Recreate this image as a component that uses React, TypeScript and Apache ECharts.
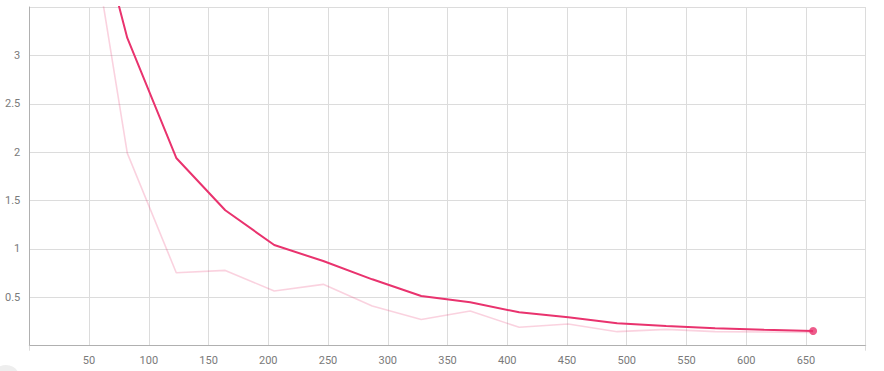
import React, { useEffect, useRef } from "react";
import * as echarts from "echarts";

const steps = [41, 82, 123, 164, 205, 246, 287, 328, 369, 410, 451, 492, 533, 574, 615, 656];
const smoothedLoss = [5.12, 3.18, 1.94, 1.4, 1.04, 0.875, 0.686, 0.513, 0.448, 0.345, 0.293, 0.231, 0.203, 0.18, 0.165, 0.152];
const rawLoss = [5.12, 1.99, 0.754, 0.778, 0.565, 0.634, 0.41, 0.27, 0.358, 0.19, 0.224, 0.145, 0.169, 0.145, 0.142, 0.136];

const MAIN = "#e9336e";

export default function App() {
  const ref = useRef<HTMLDivElement>(null);
  useEffect(() => {
    document.body.style.margin = "0";
    const chart = echarts.init(ref.current!, null, { renderer: "svg" });
    const lastIdx = steps.length - 1;
    chart.setOption({
      animation: false,
      backgroundColor: "#ffffff",
      grid: { left: 29.3, right: 18.3, top: 7, bottom: 25.3 },
      xAxis: [
        {
          type: "value",
          min: 0,
          max: 700,
          interval: 50,
          axisLine: { show: true, lineStyle: { color: "#b0b0b0", width: 1 } },
          axisTick: { show: false },
          splitLine: { show: true, lineStyle: { color: "#dcdcdc", width: 1 } },
          axisLabel: {
            showMinLabel: false,
            showMaxLabel: false,
            color: "#7a7a7a",
            fontSize: 11,
            fontFamily: "Roboto",
            margin: 9,
          },
        },
        {
          type: "value",
          min: 0,
          max: 700,
          interval: 700,
          position: "bottom",
          axisLine: { show: false },
          axisTick: { show: true, length: 5, lineStyle: { color: "#dcdcdc" } },
          splitLine: { show: false },
          axisLabel: { show: false },
        },
      ],
      yAxis: {
        type: "value",
        min: 0,
        max: 3.5,
        interval: 0.5,
        axisLine: { show: true, lineStyle: { color: "#b0b0b0", width: 1 } },
        axisTick: { show: false },
        splitLine: { show: true, lineStyle: { color: "#dcdcdc", width: 1 } },
        axisLabel: {
          showMinLabel: false,
          showMaxLabel: false,
          color: "#7a7a7a",
          fontSize: 11,
          fontFamily: "Roboto",
          margin: 9,
        },
      },
      series: [
        {
          type: "line",
          data: steps.map((s, i) => [s, rawLoss[i]]),
          showSymbol: false,
          symbol: "none",
          clip: true,
          lineStyle: { color: MAIN, width: 1.6, opacity: 0.22 },
          z: 2,
        },
        {
          type: "line",
          data: steps.map((s, i) => [s, smoothedLoss[i]]),
          showSymbol: false,
          symbol: "none",
          clip: true,
          lineStyle: { color: MAIN, width: 2 },
          z: 3,
        },
        {
          type: "scatter",
          data: [[steps[lastIdx], smoothedLoss[lastIdx]]],
          symbolSize: 8,
          itemStyle: { color: MAIN },
          z: 4,
        },
      ],
      graphic: [
        {
          type: "circle",
          left: -8,
          top: 365,
          shape: { r: 14 },
          style: { fill: "#eeeeee" },
          silent: true,
        },
      ],
    });
    return () => chart.dispose();
  }, []);
  return (
    <div
      ref={ref}
      style={{ position: "fixed", left: 0, top: 0, width: 884, height: 371 }}
    />
  );
}
